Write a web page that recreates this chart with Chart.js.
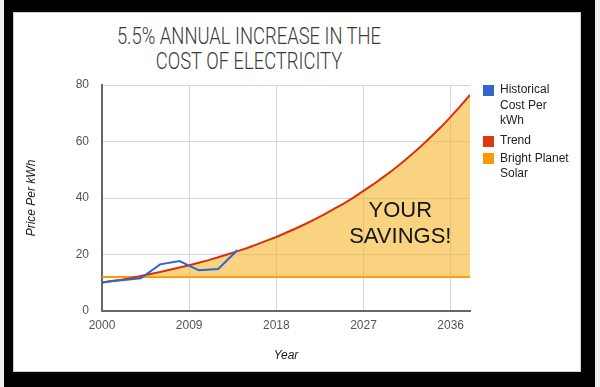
<!DOCTYPE html>
<html>
<head>
<meta charset="utf-8">
<script src="https://cdn.jsdelivr.net/npm/chart.js@4"></script>
<style>
  body { margin: 0; background: #eeeeee; width: 600px; height: 387px; overflow: hidden; }
  .frame { position: absolute; left: 4px; top: 0; width: 591px; height: 387px; background: #000; }
  .card { position: absolute; left: 13px; top: 12px; width: 566px; height: 358px; background: #fff; border: 1px solid #cfcfcf; }
  #chart { position: absolute; left: 0; top: 0; }
  .title {
    position: absolute; left: 0; top: 24px; width: 498px; text-align: center;
    font-family: Roboto, sans-serif; font-weight: 300; font-size: 23px; line-height: 25px;
    color: #3a3a3a; transform: scaleX(0.8); transform-origin: 249px 0;
  }
  .legend-item { position: absolute; left: 483px; font-family: "Liberation Sans", Arial, sans-serif; font-size: 12px; line-height: 15.5px; color: #222; }
  .legend-item .box { position: absolute; left: 0; top: 2.5px; width: 11px; height: 11px; }
  .legend-item .txt { position: absolute; left: 17px; top: 0; white-space: nowrap; }
</style>
</head>
<body>
<div class="frame"></div>
<div class="card"></div>
<div class="title">5.5% ANNUAL INCREASE IN THE<br>COST OF ELECTRICITY</div>
<canvas id="chart" width="600" height="387"></canvas>
<div id="legend"></div>
<script>
// Historical cost per kWh
const histYears = [2000, 2002, 2004, 2006, 2008, 2010, 2012, 2014];
const histCost = [10.2, 10.9, 11.6, 16.5, 17.7, 14.4, 14.9, 21.6];

// 5.5% trend line
const trendYears = [2000, 2001, 2002, 2003, 2004, 2005, 2006, 2007, 2008, 2009,
                    2010, 2011, 2012, 2013, 2014, 2015, 2016, 2017, 2018, 2019,
                    2020, 2021, 2022, 2023, 2024, 2025, 2026, 2027, 2028, 2029,
                    2030, 2031, 2032, 2033, 2034, 2035, 2036, 2037, 2038];
const trendCost = [10.0, 10.6, 11.1, 11.7, 12.4, 13.1, 13.8, 14.6, 15.4, 16.2,
                   17.1, 18.0, 19.0, 20.1, 21.2, 22.3, 23.6, 24.9, 26.2, 27.7,
                   29.2, 30.8, 32.5, 34.3, 36.2, 38.1, 40.2, 42.5, 44.8, 47.3,
                   49.8, 52.6, 55.5, 58.5, 61.8, 65.1, 68.7, 72.5, 76.5];

// Bright Planet Solar flat price
const solarYears = [2000, 2038];
const solarCost = [12, 12];

const seriesNames = ['Historical Cost Per kWh', 'Trend', 'Bright Planet Solar'];
const legendLines = [['Historical', 'Cost Per', 'kWh'], ['Trend'], ['Bright Planet', 'Solar']];
const seriesColors = ['#3366cc', '#dc3912', '#ff9900'];
const lineColors = ['#2f63d4', '#d8300f', '#ff9900'];

const xTicks = [2000, 2009, 2018, 2027, 2036];
const yTicks = [0, 20, 40, 60, 80];

const noteLines = ['YOUR', 'SAVINGS!'];

function toPoints(xs, ys) {
    return xs.map((x, i) => ({ x: x, y: ys[i] }));
}

// legend
const legendTops = [82, 133, 150.7];
const legend = document.getElementById('legend');
legendLines.forEach((lines, i) => {
    const item = document.createElement('div');
    item.className = 'legend-item';
    item.style.top = legendTops[i] + 'px';
    item.title = seriesNames[i];
    item.innerHTML = '<div class="box" style="background:' + seriesColors[i] + '"></div>' +
                     '<div class="txt">' + lines.join('<br>') + '</div>';
    legend.appendChild(item);
});

const savingsNote = {
    id: 'savingsNote',
    afterDatasetsDraw(chart) {
        const ctx = chart.ctx;
        const x = chart.scales.x.getPixelForValue(2030.8);
        const y = chart.scales.y.getPixelForValue(33.4);
        ctx.save();
        ctx.font = '22px "Liberation Sans", Arial, sans-serif';
        ctx.fillStyle = '#151515';
        ctx.textAlign = 'center';
        ctx.textBaseline = 'alphabetic';
        noteLines.forEach((t, i) => ctx.fillText(t, x, y + i * 26.5));
        ctx.restore();
    }
};

const tickFont = { family: '"Liberation Sans", Arial, sans-serif', size: 12 };
const titleFont = { family: '"Liberation Sans", Arial, sans-serif', size: 12, style: 'italic' };

new Chart(document.getElementById('chart'), {
    type: 'line',
    data: {
        datasets: [{
            label: seriesNames[0],
            data: toPoints(histYears, histCost),
            borderColor: lineColors[0],
            borderWidth: 2,
            pointRadius: 0,
            fill: false
        }, {
            label: seriesNames[1],
            data: toPoints(trendYears, trendCost),
            borderColor: lineColors[1],
            borderWidth: 2,
            pointRadius: 0,
            fill: { target: 2, above: 'rgba(245,180,35,0.58)', below: 'rgba(0,0,0,0)' }
        }, {
            label: seriesNames[2],
            data: toPoints(solarYears, solarCost),
            borderColor: lineColors[2],
            borderWidth: 2,
            pointRadius: 0,
            fill: false
        }]
    },
    plugins: [savingsNote],
    options: {
        responsive: false,
        animation: false,
        layout: { padding: { left: 20, right: 130, top: 85, bottom: 20 } },
        plugins: {
            legend: { display: false },
            title: { display: false },
            tooltip: { enabled: false }
        },
        scales: {
            x: {
                type: 'linear',
                min: 2000,
                max: 2038,
                afterFit: s => { s.height = 56; },
                afterBuildTicks: s => { s.ticks = xTicks.map(v => ({ value: v })); },
                ticks: { font: tickFont, color: '#555', padding: 7, maxRotation: 0, callback: v => String(v) },
                grid: { color: '#d6d6d6', drawTicks: false },
                border: { color: '#666', width: 2 },
                title: { display: true, text: 'Year', font: titleFont, color: '#222', padding: { top: 4, bottom: 4 } }
            },
            y: {
                min: 0,
                max: 80,
                afterFit: s => { s.width = 82; },
                afterBuildTicks: s => { s.ticks = yTicks.map(v => ({ value: v })); },
                ticks: { font: tickFont, color: '#555', padding: 13 },
                grid: { color: '#d6d6d6', drawTicks: false },
                border: { color: '#666', width: 2 },
                title: { display: true, text: 'Price Per kWh', font: titleFont, color: '#222', padding: { top: 4, bottom: 4 } }
            }
        }
    }
});
</script>
</body>
</html>
